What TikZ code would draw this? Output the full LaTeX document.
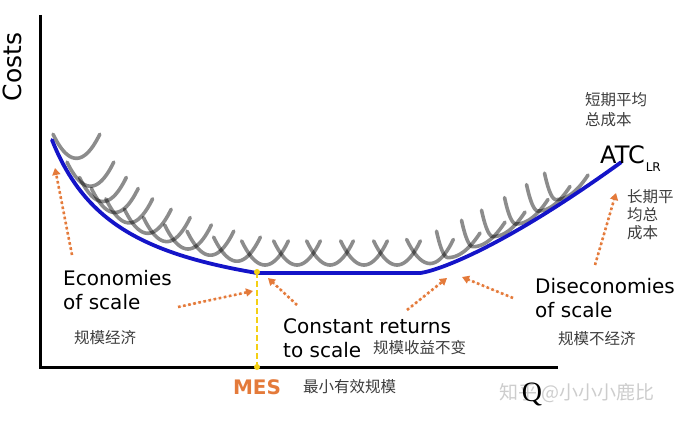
\documentclass[tikz,border=0pt]{standalone}
\usepackage{fontspec}
\setmainfont{DejaVu Sans}
\newfontfamily\cjk{Noto Sans CJK SC}
\newfontfamily\serifQ{Liberation Serif}
\usetikzlibrary{arrows.meta}
\definecolor{blueC}{RGB}{20,20,200}
\definecolor{orangeC}{RGB}{228,122,58}
\definecolor{yellowC}{RGB}{244,208,20}
\definecolor{cjkC}{RGB}{60,60,60}
\definecolor{wmC}{RGB}{205,205,205}
\begin{document}
\begin{tikzpicture}[x=1pt,y=-1pt,
  axisline/.style={line width=3pt, draw=black, line join=miter},
  srcurve/.style={line width=3.6pt, draw=black, draw opacity=0.45, line cap=round, line join=round},
  lrcurve/.style={line width=3.8pt, draw=blueC, line cap=round, line join=round},
  dotarrow/.style={draw=orangeC, fill=orangeC, line width=2.6pt, dash pattern=on 2.6pt off 2.6pt, -{Triangle[length=7pt,width=8pt]}},
  meslin/.style={draw=yellowC, line width=2.4pt, dash pattern=on 6pt off 3pt},
  enlabel/.style={font=\fontsize{20}{24}\selectfont, anchor=base west, inner sep=0pt},
  cnlabel/.style={font=\cjk\fontsize{15.5}{18}\selectfont, text=cjkC, anchor=west, inner sep=0pt}]
\useasboundingbox (0,0) rectangle (684,422);

% axes
\coordinate (ytop) at (40,15);
\coordinate (origin) at (40,367);
\coordinate (xend) at (558,367);
\draw[axisline] (ytop) -- (origin) -- (xend);

% short-run average cost curves
\foreach \mx/\my in {76.4/158.3, 90.4/186.2, 102.9/201.5, 114.8/212.5, 129.2/222.9, 147.8/233.3, 166.8/241.6, 188/249, 210.4/255.2, 237/261.2, 265/265, 297/265, 330/265, 364/265, 397/265, 430/263.5}
  \draw[srcurve] plot[domain=-23.4:23.4, samples=30] ({\mx+\x},{\my-0.044*\x*\x});
\foreach \mx/\my in {448/257.6, 473/246.7, 493/236.6, 516/224, 538/211, 556/199.6}
  \draw[srcurve] plot[domain=-11.5:32, samples=40] ({\mx+\x},{\my-ifthenelse(\x<0,0.2,0.024)*\x*\x});

% long-run average cost curve
\draw[lrcurve] plot[domain=52:621, samples=200] (\x,{273-max(12939/(\x+20)-46.71,0)-(\x>420)*0.1064*(max(\x-420,1))^1.31});

% MES line
\coordinate (mesTop) at (257,272);
\coordinate (mesBot) at (257,367);
\draw[meslin] (mesTop) -- (mesBot);
\fill[yellowC] (mesTop) circle (3);
\fill[yellowC] (mesBot) circle (3);

% arrows
\coordinate (a1s) at (72,255);  \coordinate (a1t) at (55,168);
\coordinate (a2s) at (178,307); \coordinate (a2t) at (253,291);
\coordinate (a3s) at (297,305); \coordinate (a3t) at (268,278);
\coordinate (a4s) at (407,310); \coordinate (a4t) at (447,278);
\coordinate (a5s) at (513,298); \coordinate (a5t) at (462,277);
\coordinate (a6s) at (595,265); \coordinate (a6t) at (616,193);
\foreach \i in {1,...,6} \draw[dotarrow] (a\i s) -- (a\i t);

% labels
\node[rotate=90, font=\fontsize{25}{30}\selectfont, inner sep=0pt] (costs) at (12,67) {Costs};
\node[enlabel] (eco1) at (63,285) {Economies};
\node[enlabel] (eco2) at (63,309) {of scale};
\node[cnlabel] (ecoCN) at (74,338) {规模经济};
\node[enlabel] (crs1) at (283,333) {Constant returns};
\node[enlabel] (crs2) at (283,357) {to scale};
\node[cnlabel] (crsCN) at (373,348) {规模收益不变};
\node[enlabel] (dis1) at (535,293) {Diseconomies};
\node[enlabel] (dis2) at (535,317) {of scale};
\node[cnlabel] (disCN) at (558,339) {规模不经济};
\node[font=\bfseries\fontsize{20}{24}\selectfont, text=orangeC, anchor=base, inner sep=0pt] (mes) at (257,394) {MES};
\node[cnlabel] (mesCN) at (303,387) {最小有效规模};
\node[cnlabel] (srac1) at (585,100) {短期平均};
\node[cnlabel] (srac2) at (585,119.5) {总成本};
\node[cnlabel] (lrac1) at (627,197) {长期平};
\node[cnlabel] (lrac2) at (627,215) {均总};
\node[cnlabel] (lrac3) at (627,233) {成本};
\node[anchor=base west, inner sep=0pt, font=\fontsize{24}{28}\selectfont] (atc) at (600,163) {ATC\kern1pt\raisebox{-9pt}{\fontsize{12}{14}\selectfont LR}};
\node[font=\cjk\fontsize{19}{22}\selectfont, text=wmC, anchor=west, inner sep=0pt] (wm) at (499,393) {知乎\ @小小小鹿比};
\node[font=\serifQ\fontsize{28}{32}\selectfont, inner sep=0pt] (q) at (532,394) {Q};
\end{tikzpicture}
\end{document}
